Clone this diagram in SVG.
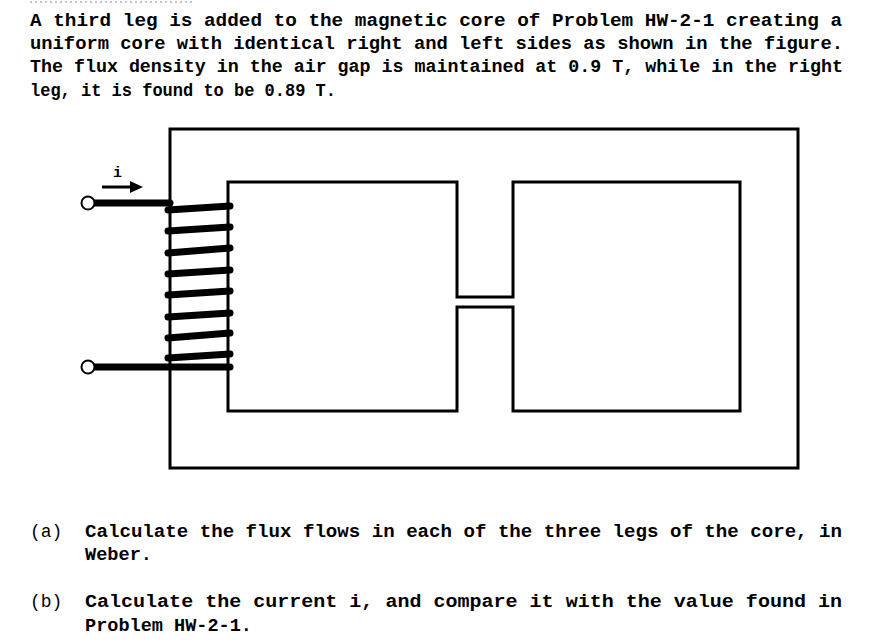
<svg xmlns="http://www.w3.org/2000/svg" width="877" height="641" viewBox="0 0 877 641">
<style>
.t{font-family:"Liberation Mono","DejaVu Sans Mono",monospace;font-size:19px;font-weight:bold;fill:#000}
.l{font-family:"Liberation Mono","DejaVu Sans Mono",monospace;font-size:18px;fill:#000}
.core{fill:none;stroke:#000;stroke-width:3}
.w{stroke:#000;stroke-width:7;stroke-linecap:round}
</style>
<rect width="877" height="641" fill="#fff"/>
<line x1="30" y1="2" x2="195" y2="2" stroke="#888" stroke-width="1" stroke-dasharray="2,3"/>
<g id="text">
<text class="t" x="30" y="26" textLength="812" lengthAdjust="spacingAndGlyphs">A third leg is added to the magnetic core of Problem HW-2-1 creating a</text>
<text class="t" x="30" y="49" textLength="813" lengthAdjust="spacingAndGlyphs">uniform core with identical right and left sides as shown in the figure.</text>
<text class="t" x="30" y="72" textLength="813" lengthAdjust="spacingAndGlyphs">The flux density in the air gap is maintained at 0.9 T, while in the right</text>
<text class="t" x="30" y="96" textLength="306" lengthAdjust="spacingAndGlyphs">leg, it is found to be 0.89 T.</text>
<text class="l" x="30" y="537">(a)</text>
<text class="t" x="85" y="537" textLength="757" lengthAdjust="spacingAndGlyphs">Calculate the flux flows in each of the three legs of the core, in</text>
<text class="t" x="85" y="560" textLength="67" lengthAdjust="spacingAndGlyphs">Weber.</text>
<text class="l" x="30" y="607">(b)</text>
<text class="t" x="85" y="607" textLength="757" lengthAdjust="spacingAndGlyphs">Calculate the current i, and compare it with the value found in</text>
<text class="t" x="85" y="631" textLength="167" lengthAdjust="spacingAndGlyphs">Problem HW-2-1.</text>
</g>
<g id="core">
<rect class="core" x="170" y="129" width="628" height="339"/>
<path class="core" d="M228,182 H457 V297 H513 V182 H740 V411 H513 V307 H457 V411 H228 Z"/>
</g>
<g id="coil">
<line class="w" x1="90" y1="203" x2="170" y2="203" stroke-linecap="butt"/>
<line class="w" x1="90" y1="367" x2="230" y2="367" stroke-linecap="butt"/>
<circle cx="88" cy="203" r="6.5" fill="#fff" stroke="#000" stroke-width="2"/>
<circle cx="88" cy="367" r="6.5" fill="#fff" stroke="#000" stroke-width="2"/>
<line class="w" x1="168" y1="210" x2="230" y2="206"/>
<line class="w" x1="168" y1="231" x2="230" y2="227"/>
<line class="w" x1="168" y1="253" x2="230" y2="248"/>
<line class="w" x1="168" y1="274" x2="230" y2="270"/>
<line class="w" x1="168" y1="295" x2="230" y2="291"/>
<line class="w" x1="168" y1="317" x2="230" y2="313"/>
<line class="w" x1="168" y1="338" x2="230" y2="333"/>
<line class="w" x1="168" y1="358" x2="230" y2="354"/>
</g>
<g id="connectors">
<line x1="102" y1="187" x2="132" y2="187" stroke="#000" stroke-width="3"/>
<polygon points="130,181 143,187 130,193" fill="#000"/>
<text class="t" x="113" y="177" style="font-size:15px">i</text>
</g>
</svg>
